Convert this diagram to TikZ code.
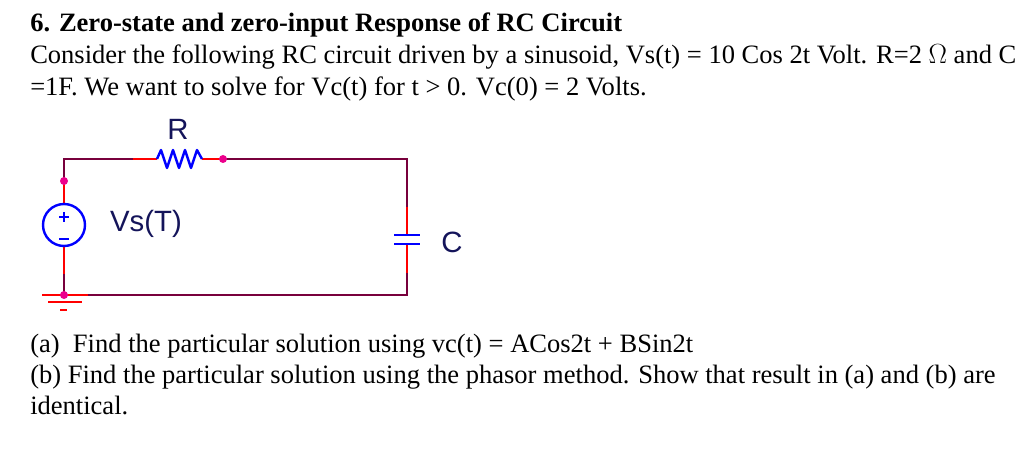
\documentclass[tikz,border=0pt]{standalone}
\usepackage{fontspec}
\setmainfont{Liberation Serif}
\newfontfamily\arialf{Liberation Sans}
\begin{document}
\begin{tikzpicture}[x=0.75pt,y=-0.75pt,
  txt/.style={anchor=base west,inner sep=0pt,font=\fontsize{19.9}{22}\selectfont},
  lab/.style={inner sep=0pt,font=\arialf\fontsize{22}{24}\selectfont,text={rgb,255:red,20;green,20;blue,90}},
  wire/.style={draw={rgb,255:red,120;green,0;blue,60},line width=1.5pt},
  rw/.style={draw=red,line width=1.5pt},
  bl/.style={draw=blue,line width=1.8pt},
  dot/.style={circle,fill=magenta,inner sep=0pt,minimum size=6pt}]
\useasboundingbox (0,0) rectangle (1024,452);
\node[txt] (t1) at (30,32) {\textbf{6. Zero-state and zero-input Response of RC Circuit}};
\node[txt] (t2) at (30,64) {Consider the following RC circuit driven by a sinusoid, Vs(t) = 10 Cos 2t Volt. R=2 $\Omega$ and C};
\node[txt] (t3) at (30,96) {=1F. We want to solve for Vc(t) for t > 0. Vc(0) = 2 Volts.};
\node[txt] (a) at (30,352) {(a)\ \ Find the particular solution using vc(t) = ACos2t + BSin2t};
\node[txt] (b) at (30,383) {(b) Find the particular solution using the phasor method. Show that result in (a) and (b) are};
\node[txt] (c) at (30,414) {identical.};
% wires
\draw[wire] (64,181) -- (64,159) -- (133,159);
\draw[wire] (223,159) -- (407,159) -- (407,207);
\draw[wire] (407,273) -- (407,295) -- (88,295);
\draw[wire] (64,274) -- (64,295);
\draw[rw] (133,159) -- (157,159);
\draw[rw] (202,159) -- (223,159);
\draw[rw] (64,181) -- (64,204);
\draw[rw] (64,246) -- (64,274);
\draw[rw] (407,207) -- (407,235);
\draw[rw] (407,244) -- (407,273);
% resistor
\draw[bl,line join=round] (157,159) -- (161,150) -- (167,168) -- (173,150) -- (179,168) -- (185,150) -- (191,168) -- (197,150) -- (202,159);
% capacitor
\draw[bl] (394,235) -- (420,235);
\draw[bl] (394,244) -- (420,244);
% source
\draw[bl] (64,225) circle (21);
\draw[blue,line width=1.5pt] (59,217) -- (69,217) (64,212) -- (64,222) (59,239) -- (69,239);
% ground
\draw[rw] (42,295) -- (88,295);
\draw[rw] (48,302) -- (82,302);
\draw[rw] (60,310) -- (67,310);
\node[dot] (d1) at (64,181) {};
\node[dot] (d2) at (223,159) {};
\node[dot] (d3) at (64,295) {};
\node[lab] (R) at (178,129) {R};
\node[lab] (Vs) at (146,224) {Vs(T)};
\node[lab] (C) at (452,242) {C};
\end{tikzpicture}
\end{document}
